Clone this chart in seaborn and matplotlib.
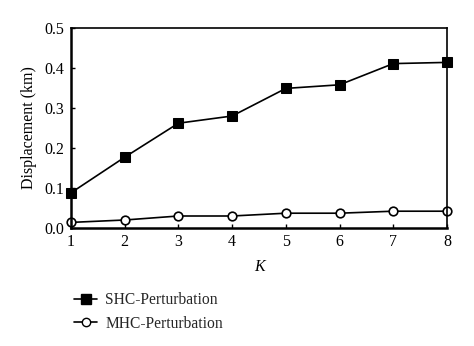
import matplotlib
matplotlib.use("Agg")
import matplotlib.pyplot as plt
import seaborn as sns
import pandas as pd
from matplotlib.lines import Line2D

k_values = [1, 2, 3, 4, 5, 6, 7, 8]
shc_values = [0.088, 0.177, 0.262, 0.280, 0.349, 0.358, 0.411, 0.414]
mhc_values = [0.014, 0.020, 0.030, 0.030, 0.037, 0.037, 0.042, 0.042]
series_names = ["SHC-Perturbation", "MHC-Perturbation"]
y_ticks = [0.0, 0.1, 0.2, 0.3, 0.4, 0.5]

df = pd.DataFrame({
    "K": k_values * 2,
    "val": shc_values + mhc_values,
    "series": [series_names[0]] * len(k_values) + [series_names[1]] * len(k_values),
})

sns.set_theme(style="white")
plt.rcParams["font.family"] = ["Liberation Serif", "DejaVu Serif"]

fig = plt.figure(figsize=(4.74, 3.46), dpi=100)
ax = fig.add_axes([71 / 474, 1 - 228 / 346, 376 / 474, 200 / 346])

sns.lineplot(data=df, x="K", y="val", hue="series", style="series",
             markers={"SHC-Perturbation": "s", "MHC-Perturbation": "o"},
             dashes=False, palette={"SHC-Perturbation": "black", "MHC-Perturbation": "black"},
             ax=ax, linewidth=1.2, markersize=6.5, legend=False)
for line in ax.lines:
    line.set_clip_on(False)
    if line.get_marker() == "o":
        line.set_markerfacecolor("white")
        line.set_markeredgecolor("black")
        line.set_markeredgewidth(1.2)
        line.set_markersize(6.2)
    else:
        line.set_markerfacecolor("black")
        line.set_markeredgecolor("black")

ax.set_xlim(1, 8)
ax.set_ylim(0, 0.5)
ax.set_xticks(k_values)
ax.set_yticks(y_ticks)
ax.set_yticklabels([f"{v:.1f}" for v in y_ticks])
ax.tick_params(direction="in", length=3, width=1, colors="black", labelsize=11.5,
               left=True, bottom=True)
ax.tick_params(axis="y", pad=5)
ax.tick_params(axis="x", pad=4)
for s in ax.spines.values():
    s.set_color("black")
    s.set_linewidth(1.2)
ax.spines["bottom"].set_linewidth(1.8)
ax.spines["left"].set_linewidth(1.8)

ax.set_xlabel("K", fontstyle="italic", fontsize=11.5, labelpad=7, color="black")
ax.set_ylabel("Displacement (km)", fontsize=11.5, labelpad=5, color="black")

handles = [
    Line2D([], [], color="black", marker="s", markersize=6.5, linewidth=1.2),
    Line2D([], [], color="black", marker="o", markersize=6, markerfacecolor="white", linewidth=1.2),
]
fig.legend(handles, series_names, loc="upper left", bbox_to_anchor=(60 / 474, 1 - 278 / 346),
           frameon=False, fontsize=11.2, handlelength=1.5, handletextpad=0.5, labelspacing=0.5)

fig.savefig("out.png", dpi=100, facecolor="white")
